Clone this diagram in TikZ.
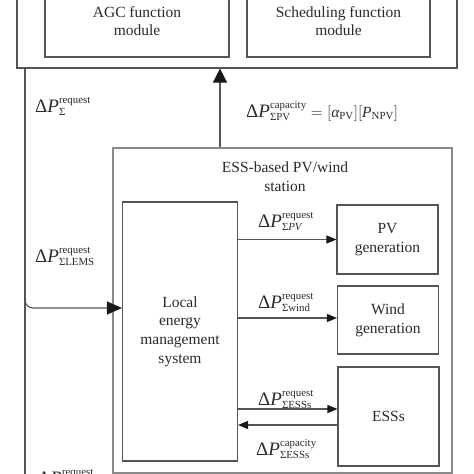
\RequirePackage{fix-cm}
\documentclass[tikz,border=0pt]{standalone}
\usepackage{amsmath}
\usepackage{fontspec}
\setmainfont{Liberation Serif}
\usetikzlibrary{arrows.meta}
\definecolor{boxgray}{HTML}{555555}
\definecolor{stgray}{HTML}{8A8A8A}
\definecolor{txtgray}{HTML}{2B2B2B}
\newcommand\dfs{\fontsize{15.5}{18.7}\selectfont}
\newcommand\dPx{\text{\fontsize{19}{21}\selectfont Δ\textit{P}}}
\newcommand\tx[1]{\text{#1}}
\begin{document}
\begin{tikzpicture}[x=1pt,y=-1pt,
  box/.style={draw=boxgray, line width=1.1pt, inner sep=0pt, align=center, font=\dfs, text=txtgray},
  stbox/.style={draw=stgray, line width=1.8pt, inner sep=0pt},
  txt/.style={inner sep=0pt, align=center, font=\dfs, text=txtgray},
  lbl/.style={inner sep=0pt, anchor=base west, font=\dfs, text=txtgray},
  conn/.style={draw=boxgray, line width=1.1pt},
  bigtip/.style={-{Triangle[length=14pt,width=14pt,color=black!90]}},
  smtip/.style={-{Triangle[length=10pt,width=8pt,color=black!90]}}]
\useasboundingbox (0,0) rectangle (474,474);
\clip (0,0) rectangle (474,474);
\fill[white] (0,0) rectangle (474,474);
% control centre
\node[box, minimum width=440, minimum height=100] (ctrl) at (237,18) {};
\node[box, minimum width=184, minimum height=72] (agc) at (137,21) {AGC function\\module};
\node[box, minimum width=183, minimum height=72] (sched) at (338.5,21) {Scheduling function\\module};
% station
\node[stbox, minimum width=339, minimum height=325] (station) at (282.5,310.5) {};
\node[txt] (sttitle) at (285,176.5) {ESS-based PV/wind\\station};
\node[box, minimum width=115, minimum height=259] (lems) at (180,331.5) {Local\\energy\\management\\system};
\node[box, minimum width=101, minimum height=69] (pv) at (387.5,239.5) {PV\\generation};
\node[box, minimum width=101, minimum height=68] (wind) at (388,320) {Wind\\generation};
\node[box, minimum width=101, minimum height=99] (ess) at (388.5,416.5) {ESSs};
% connectors
\coordinate (upx) at (220,0);
\draw[conn, bigtip] (station.north -| upx) -- (ctrl.south -| upx);
\coordinate (lx) at (25,0);
\coordinate (lbot) at (25,480);
\draw[conn] (ctrl.south -| lx) -- (lbot);
\coordinate (br) at (25,287);
\coordinate (lin) at ([yshift=23.5pt]lems.west);
\draw[conn, rounded corners=8pt, -{Triangle[length=15pt,width=13pt,color=black!90]}] (br) |- (lin);
\draw[conn, smtip] (lems.east |- pv.west) -- (pv.west);
\coordinate (win) at ([yshift=2pt]wind.west);
\draw[conn, smtip] (lems.east |- win) -- (win);
\coordinate (essr) at ([yshift=7.5pt]ess.west);
\draw[conn, smtip] (lems.east |- essr) -- (essr);
\coordinate (essc) at ([yshift=-8.5pt]ess.west);
\draw[conn, smtip] (essc) -- (lems.east |- essc);
% labels
\node[lbl] (l1) at (35,112) {$\dPx^{\tx{request}}_{\tx{Σ}}$};
\node[lbl] (l2) at (35,262) {$\dPx^{\tx{request}}_{\tx{ΣLEMS}}$};
\node[lbl] (l3) at (246,117) {$\dPx^{\tx{capacity}}_{\tx{ΣPV}} = [\textit{α}_{\tx{PV}}][\textit{P}_{\tx{NPV}}]$};
\node[lbl] (l4) at (258,227) {$\dPx^{\tx{request}}_{\tx{Σ\textit{PV}}}$};
\node[lbl] (l5) at (258,308) {$\dPx^{\tx{request}}_{\tx{Σwind}}$};
\node[lbl] (l6) at (258,405) {$\dPx^{\tx{request}}_{\tx{ΣESSs}}$};
\node[lbl] (l7) at (256,455) {$\dPx^{\tx{capacity}}_{\tx{ΣESSs}}$};
\node[lbl] (l8) at (38,484) {$\dPx^{\tx{request}}_{\tx{Σ}}$};
\end{tikzpicture}
\end{document}
